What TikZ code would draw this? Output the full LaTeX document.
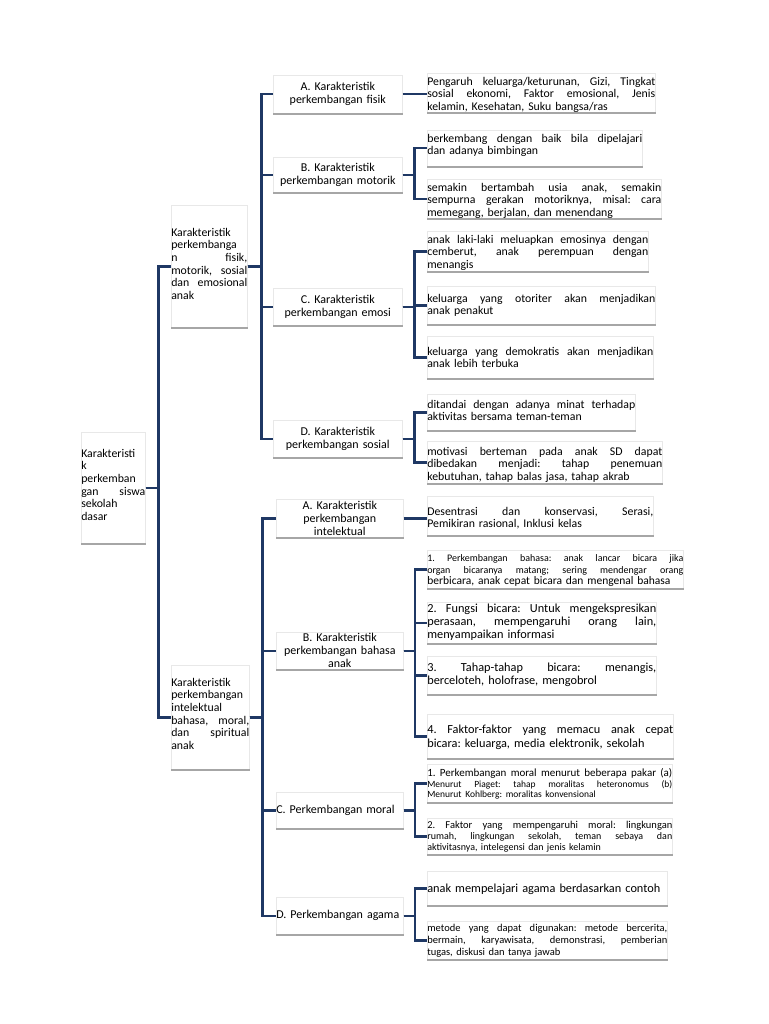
\documentclass[tikz,border=0pt]{standalone}
\usepackage{fontspec}
\setmainfont{Carlito}
\frenchspacing
\definecolor{navy}{RGB}{31,56,100}
\newcommand\jl[1]{\makebox[\hsize][s]{\spaceskip=0pt\xspaceskip=0pt #1}\\}
\newcommand\fs[2]{\fontsize{#1}{#2}\selectfont}
\tikzset{
  conn/.style={draw=navy, line width=2.4pt},
  card/.style={fill=white, draw=black!9, line width=0.6pt, inner sep=0pt,
    append after command={([yshift=-0.6pt]\tikzlastnode.south west) edge[draw=black!35, line width=1.6pt] ([yshift=-0.6pt]\tikzlastnode.south east)}},
  leaf/.style={card, anchor=north west, align=left, font=\fs{11.8}{12.6}\frenchspacing},
  mid/.style={card, anchor=north west, align=center, font=\fs{12}{13}},
}
\begin{document}
\begin{tikzpicture}[x=1pt,y=-1pt]
\useasboundingbox (0,0) rectangle (768,1024);

% root and level 1
\node[leaf, text width=64pt, text height=25pt, text depth=86pt] (root) at (81,432)
  {Karakteristi\\ k\\ perkemban\\ \jl{gan siswa}sekolah\\ dasar};
\node[leaf, text width=76pt, text height=31pt, text depth=91pt] (k1) at (171,205)
  {Karakteristik\\ perkembanga\\ \jl{n fisik,}\jl{motorik, sosial}\jl{dan emosional}anak};
\node[leaf, text width=78pt, text height=21pt, text depth=83pt] (k2) at (171,665)
  {Karakteristik\\ perkembangan\\ intelektual\\ \jl{bahasa, moral,}\jl{dan spiritual}anak};

% level 2, group 1
\node[mid, text width=125pt, minimum width=129pt, minimum height=38pt] (gA) at (273,75) {A. Karakteristik\\ perkembangan fisik};
\node[mid, text width=125pt, minimum width=129pt, minimum height=35pt] (gB) at (273,157) {B. Karakteristik\\ perkembangan motorik};
\node[mid, text width=125pt, minimum width=129pt, minimum height=37pt] (gC) at (273,288) {C. Karakteristik\\ perkembangan emosi};
\node[mid, text width=125pt, minimum width=129pt, minimum height=37pt] (gD) at (273,420) {D. Karakteristik\\ perkembangan sosial};

% level 2, group 2
\node[mid, text width=123pt, minimum width=127pt, minimum height=38pt] (hA) at (276,499) {A. Karakteristik\\ perkembangan\\ intelektual};
\node[mid, text width=123pt, minimum width=127pt, minimum height=37pt] (hB) at (276,632) {B. Karakteristik\\ perkembangan bahasa\\ anak};
\node[mid, align=left, text width=127pt, minimum width=127pt, minimum height=36pt] (hC) at (276,792) {C. Perkembangan moral};
\node[mid, align=left, text width=127pt, minimum width=127pt, minimum height=37pt] (hD) at (276,897) {D. Perkembangan agama};

% leaves, group 1
\node[leaf, text width=228pt, text height=12pt, text depth=27pt] (lf1) at (427,73)
  {\jl{Pengaruh keluarga/keturunan, Gizi, Tingkat}\jl{sosial ekonomi, Faktor emosional, Jenis}kelamin, Kesehatan, Suku bangsa/ras};
\node[leaf, text width=215pt, text height=12pt, text depth=24pt] (lm1) at (427,130)
  {\jl{berkembang dengan baik bila dipelajari}dan adanya bimbingan};
\node[leaf, text width=234pt, text height=12pt, text depth=27pt] (lm2) at (427,179)
  {\jl{semakin bertambah usia anak, semakin}\jl{sempurna gerakan motoriknya, misal: cara}memegang, berjalan, dan menendang};
\node[leaf, text width=221pt, text height=12pt, text depth=28pt] (le1) at (427,231)
  {\jl{anak laki-laki meluapkan emosinya dengan}\jl{cemberut, anak perempuan dengan}menangis};
\node[leaf, text width=228pt, text height=16pt, text depth=22pt] (le2) at (427,286)
  {\jl{keluarga yang otoriter akan menjadikan}anak penakut};
\node[leaf, text width=226pt, text height=19pt, text depth=23pt] (le3) at (427,336)
  {\jl{keluarga yang demokratis akan menjadikan}anak lebih terbuka};
\node[leaf, text width=208pt, text height=14pt, text depth=22pt] (ls1) at (427,394)
  {\jl{ditandai dengan adanya minat terhadap}aktivitas bersama teman-teman};
\node[leaf, text width=235pt, text height=14pt, text depth=28pt] (ls2) at (427,441)
  {\jl{motivasi berteman pada anak SD dapat}\jl{dibedakan menjadi: tahap penemuan}kebutuhan, tahap balas jasa, tahap akrab};

% leaves, group 2
\node[leaf, text width=226pt, text height=19pt, text depth=20pt] (li1) at (427,496)
  {\jl{Desentrasi dan konservasi, Serasi,}Pemikiran rasional, Inklusi kelas};
\node[leaf, font=\fs{11.5}{11.8}\frenchspacing, text width=256pt, text height=11pt, text depth=27pt] (lb1) at (427,550)
  {\jl{\fs{10}{11.8}1. Perkembangan bahasa: anak lancar bicara jika}\jl{\fs{10}{11.8}organ bicaranya matang; sering mendengar orang}berbicara, anak cepat bicara dan mengenal bahasa};
\node[leaf, font=\fs{12.3}{13.2}\frenchspacing, text width=229pt, text height=10pt, text depth=31pt] (lb2) at (427,602)
  {\jl{2. Fungsi bicara: Untuk mengekspresikan}\jl{perasaan, mempengaruhi orang lain,}menyampaikan informasi};
\node[leaf, font=\fs{12.3}{13.5}\frenchspacing, text width=229pt, text height=15pt, text depth=23pt] (lb3) at (427,656)
  {\jl{3. Tahap-tahap bicara: menangis,}berceloteh, holofrase, mengobrol};
\node[leaf, font=\fs{12.3}{14.5}\frenchspacing, text width=246pt, text height=19pt, text depth=25pt] (lb4) at (427,714)
  {\jl{4. Faktor-faktor yang memacu anak cepat}bicara: keluarga, media elektronik, sekolah};
\node[leaf, font=\fs{11}{10.8}\frenchspacing, text width=245pt, text height=12pt, text depth=26pt] (lmo1) at (427,764)
  {\jl{1. Perkembangan moral menurut beberapa pakar (a)}\jl{\fs{9.5}{10.8}Menurut Piaget: tahap moralitas heteronomus (b)}{\fs{9.5}{10.8}Menurut Kohlberg: moralitas konvensional}};
\node[leaf, font=\fs{10}{11}\frenchspacing, text width=245pt, text height=10pt, text depth=26pt] (lmo2) at (427,818)
  {\jl{\fs{10.5}{11}2. Faktor yang mempengaruhi moral: lingkungan}\jl{rumah, lingkungan sekolah, teman sebaya dan}aktivitasnya, intelegensi dan jenis kelamin};
\node[leaf, font=\fs{12.3}{13}\frenchspacing, text width=240pt, text height=21pt, text depth=13pt] (la1) at (427,871)
  {anak mempelajari agama berdasarkan contoh};
\node[leaf, font=\fs{10.5}{12}\frenchspacing, text width=240pt, text height=10pt, text depth=28pt] (la2) at (427,921)
  {\jl{metode yang dapat digunakan: metode bercerita,}\jl{bermain, karyawisata, demonstrasi, pemberian}tugas, diskusi dan tanya jawab};

% connectors
\foreach \c in {k1,k2} \draw[conn] (root.east) -- ++(13,0) |- (\c.west);
\foreach \c in {gA,gB,gC,gD} \draw[conn] (k1.east) -- ++(14,0) |- (\c.west);
\foreach \c in {hA,hB,hC,hD} \draw[conn] (k2.east) -- ++(13,0) |- (\c.west);
\draw[conn] (gA.east) -- (gA.east -| lf1.west);
\foreach \c in {lm1,lm2} \draw[conn] (gB.east) -- ++(12,0) |- (\c.west);
\foreach \c in {le1,le2,le3} \draw[conn] (gC.east) -- ++(12,0) |- (\c.west);
\foreach \c in {ls1,ls2} \draw[conn] (gD.east) -- ++(12,0) |- (\c.west);
\draw[conn] (hA.east) -- (hA.east -| li1.west);
\foreach \c in {lb1,lb2,lb3,lb4} \draw[conn] (hB.east) -- ++(11.5,0) |- (\c.west);
\foreach \c in {lmo1,lmo2} \draw[conn] (hC.east) -- ++(11.5,0) |- (\c.west);
\foreach \c in {la1,la2} \draw[conn] (hD.east) -- ++(11.5,0) |- (\c.west);
\end{tikzpicture}
\end{document}
